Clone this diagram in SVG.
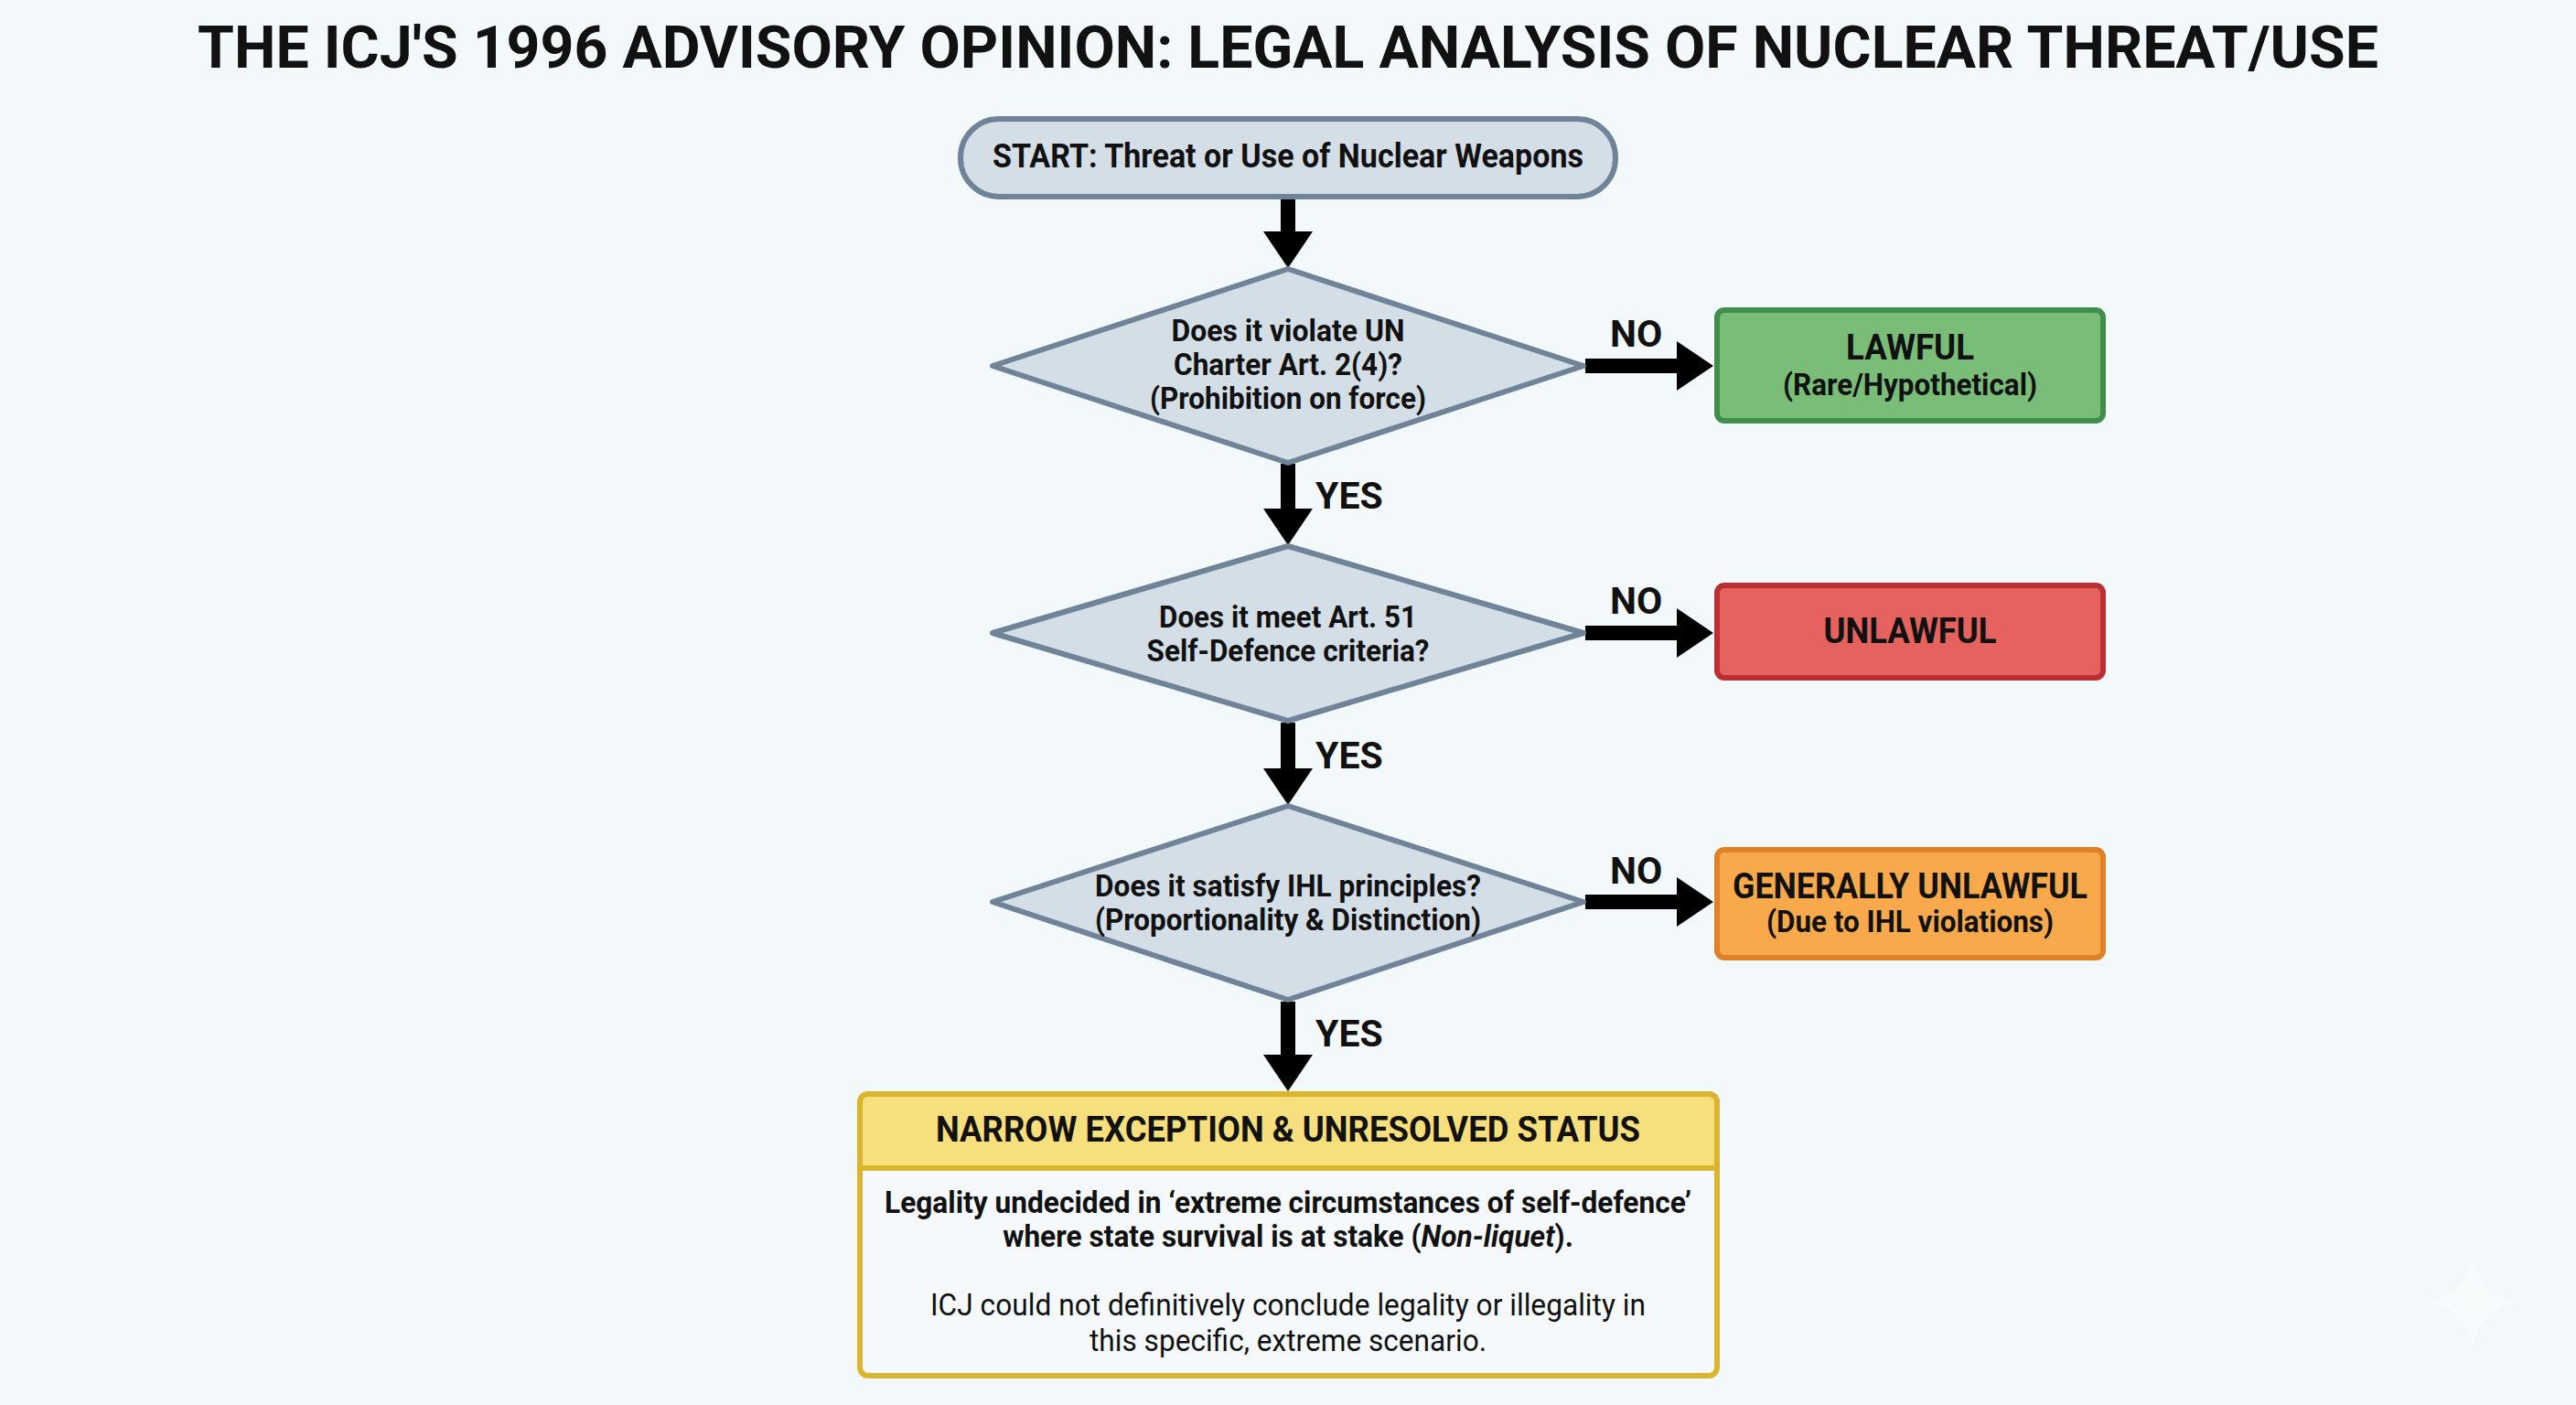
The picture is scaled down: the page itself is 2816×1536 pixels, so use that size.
<svg xmlns="http://www.w3.org/2000/svg" width="2816" height="1536" viewBox="0 0 2816 1536">
<style>
text{font-family:Roboto,"Liberation Sans",sans-serif;fill:#111;text-anchor:middle;font-weight:700}
.t{font-size:64.4px}
.n{font-size:37px}
.d{font-size:34px}
.h{font-size:38px}
.lab{font-size:41px;text-anchor:start}
.r{font-weight:400}
.diamond{fill:#d4dee6;stroke:#6f8499;stroke-width:6;stroke-linejoin:round}
.box{stroke-width:6}
.wire{stroke:#000;stroke-width:16;fill:none;marker-end:url(#head)}
</style>
<defs>
<marker id="head" markerUnits="userSpaceOnUse" markerWidth="42" markerHeight="56" refX="0" refY="28" orient="auto"><path d="M0,1 L40,28 L0,55 Z" fill="#000"/></marker>
</defs>
<rect id="background" width="2816" height="1536" fill="#f3f9fb"/>
<path id="sparkle" d="M2703,1375 Q2711,1415 2753,1423 Q2711,1431 2703,1471 Q2695,1431 2653,1423 Q2695,1415 2703,1375 Z" fill="#f7fbfc"/>
<text id="title" class="t" x="1408" y="74">THE ICJ'S 1996 ADVISORY OPINION: LEGAL ANALYSIS OF NUCLEAR THREAT/USE</text>
<g id="connectors">
<line class="wire" x1="1408" y1="216" x2="1408" y2="253"/>
<line class="wire" x1="1408" y1="507" x2="1408" y2="556"/>
<line class="wire" x1="1408" y1="790" x2="1408" y2="840"/>
<line class="wire" x1="1408" y1="1095" x2="1408" y2="1153"/>
<line class="wire" x1="1733" y1="400" x2="1833" y2="400"/>
<line class="wire" x1="1733" y1="692" x2="1833" y2="692"/>
<line class="wire" x1="1733" y1="986" x2="1833" y2="986"/>
<text class="lab" x="1438" y="556">YES</text>
<text class="lab" x="1438" y="840">YES</text>
<text class="lab" x="1438" y="1144">YES</text>
<text class="lab" x="1760" y="379">NO</text>
<text class="lab" x="1760" y="671">NO</text>
<text class="lab" x="1760" y="966">NO</text>
</g>
<g id="start">
<rect x="1050" y="130" width="716" height="85" rx="42" fill="#d4dee7" stroke="#6f8499" stroke-width="6"/>
<text class="n" x="1408" y="183" textLength="646" lengthAdjust="spacingAndGlyphs">START: Threat or Use of Nuclear Weapons</text>
</g>
<g id="q1">
<polygon class="diamond" points="1408,294 1731,400 1408,506 1085,400"/>
<text class="d" x="1408" y="373" textLength="255" lengthAdjust="spacingAndGlyphs">Does it violate UN</text>
<text class="d" x="1408" y="410" textLength="250" lengthAdjust="spacingAndGlyphs">Charter Art. 2(4)?</text>
<text class="d" x="1408" y="447" textLength="302" lengthAdjust="spacingAndGlyphs">(Prohibition on force)</text>
</g>
<g id="q2">
<polygon class="diamond" points="1408,597 1731,692 1408,788 1085,692"/>
<text class="d" x="1408" y="686" textLength="282" lengthAdjust="spacingAndGlyphs">Does it meet Art. 51</text>
<text class="d" x="1408" y="723" textLength="309" lengthAdjust="spacingAndGlyphs">Self-Defence criteria?</text>
</g>
<g id="q3">
<polygon class="diamond" points="1408,881 1731,986 1408,1093 1085,986"/>
<text class="d" x="1408" y="980" textLength="422" lengthAdjust="spacingAndGlyphs">Does it satisfy IHL principles?</text>
<text class="d" x="1408" y="1017" textLength="422" lengthAdjust="spacingAndGlyphs">(Proportionality &amp; Distinction)</text>
</g>
<g id="lawful">
<rect class="box" x="1877" y="339" width="422" height="121" rx="8" fill="#7abd78" stroke="#3f8f4b"/>
<text class="h" x="2088" y="393" textLength="140" lengthAdjust="spacingAndGlyphs">LAWFUL</text>
<text class="d" x="2088" y="432" textLength="278" lengthAdjust="spacingAndGlyphs">(Rare/Hypothetical)</text>
</g>
<g id="unlawful">
<rect class="box" x="1877" y="640" width="422" height="101" rx="8" fill="#e5625e" stroke="#b92f32"/>
<text class="h" x="2088" y="703" textLength="189" lengthAdjust="spacingAndGlyphs">UNLAWFUL</text>
</g>
<g id="generally-unlawful">
<rect class="box" x="1877" y="929" width="422" height="118" rx="8" fill="#f8a94b" stroke="#df8127"/>
<text class="h" x="2088" y="982" textLength="388" lengthAdjust="spacingAndGlyphs">GENERALLY UNLAWFUL</text>
<text class="d" x="2088" y="1019" textLength="314" lengthAdjust="spacingAndGlyphs">(Due to IHL violations)</text>
</g>
<g id="exception">
<rect x="940" y="1196" width="937" height="308" rx="9" fill="#f5f9fb" stroke="#dcb52f" stroke-width="6"/>
<path d="M940,1277 V1205 a9,9 0 0 1 9,-9 H1868 a9,9 0 0 1 9,9 V1277 Z" fill="#f6df7c" stroke="#dcb52f" stroke-width="6"/>
<text class="h" x="1408" y="1248" textLength="770" lengthAdjust="spacingAndGlyphs">NARROW EXCEPTION &amp; UNRESOLVED STATUS</text>
<text class="d" x="1408" y="1326" textLength="882" lengthAdjust="spacingAndGlyphs">Legality undecided in ‘extreme circumstances of self-defence’</text>
<text class="d" transform="translate(1408 1363) scale(.931 1)">where state survival is at stake (<tspan font-style="italic">Non-liquet</tspan>).</text>
<text class="d r" x="1408" y="1438" textLength="782" lengthAdjust="spacingAndGlyphs">ICJ could not definitively conclude legality or illegality in</text>
<text class="d r" x="1408" y="1477" textLength="434" lengthAdjust="spacingAndGlyphs">this specific, extreme scenario.</text>
</g>
</svg>
